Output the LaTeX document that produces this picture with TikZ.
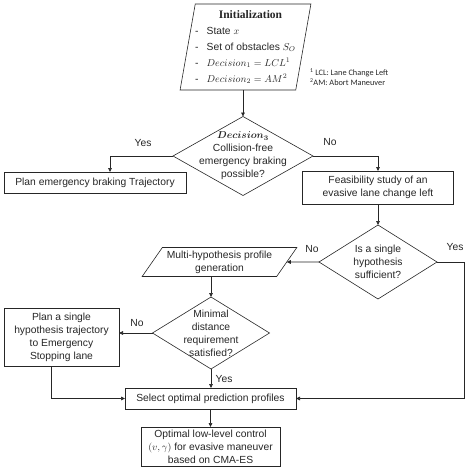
\documentclass[tikz,border=0pt]{standalone}
\usepackage{amsmath}
\usepackage{fontspec}
\setmainfont{Liberation Sans}
\newfontfamily\notefont{Carlito}
\newfontfamily\headfont{Liberation Serif}
\usetikzlibrary{shapes.geometric,arrows.meta,positioning}

\begin{document}
\begin{tikzpicture}[x=1pt, y=-1pt, color=black!85, line width=0.6pt,
  font=\fontsize{10.3}{13}\selectfont,
  >={Triangle[length=4pt,width=3.6pt]},
  every node/.style={inner sep=0pt, outer sep=0pt},
  box/.style={draw, rectangle, align=center},
  decision/.style={draw, diamond, inner sep=1pt},
  inout/.style={draw, trapezium, inner xsep=0pt, inner ysep=3pt}]
  \useasboundingbox (0,0) rectangle (474,474);

  \node[inout, trapezium left angle=80, trapezium right angle=100] (init) at (245.5,47)
    {\def\arraystretch{1.23}%
      \begin{tabular}{@{}l@{\hspace{8pt}}l@{}}
        \multicolumn{2}{c}{\hspace{10pt}\headfont\bfseries\fontsize{11.5}{13}\selectfont Initialization}\\
        - & State $x$\\
        - & Set of obstacles $S_O$\\
        - & $Decision_1=LCL^1$\\
        - & $Decision_2=AM^2$
      \end{tabular}};
  \node[anchor=west, align=left, font=\notefont\fontsize{8.3}{10}\selectfont] (fn) at (310,77)
    {\textsuperscript{1} LCL: Lane Change Left\\\textsuperscript{2}AM: Abort Maneuver};

  \node[decision, minimum width=140pt, minimum height=79pt,
    label={[align=center]center:{$\boldsymbol{Decision_3}$\\Collision-free\\emergency braking\\possible?}}] (d1) at (243,156) {};
  \node[box, minimum width=182pt, minimum height=21pt] (brake) at (95,182.5) {Plan emergency braking Trajectory};
  \node[box, minimum width=151pt, minimum height=33pt] (lcl) at (378,187.5) {Feasibility study of an\\evasive lane change left};

  \node[decision, minimum width=118pt, minimum height=74pt,
    label={[align=center]center:{Is a single\\hypothesis\\sufficient?}}] (d2) at (378,262) {};
  \node[draw, trapezium, trapezium stretches=true, inner sep=2pt, trapezium left angle=54, trapezium right angle=126,
    minimum width=155pt, minimum height=29pt, align=center] (multi) at (219.5,262)
    {Multi-hypothesis profile\\generation};

  \node[decision, minimum width=117pt, minimum height=72pt,
    label={[align=center]center:{Minimal\\distance\\requirement\\satisfied?}}] (d3) at (211,333) {};
  \node[box, minimum width=115pt, minimum height=58pt] (single) at (61.5,337)
    {Plan a single\\hypothesis trajectory\\to Emergency\\Stopping lane};

  \node[box, minimum width=171pt, minimum height=21pt] (sel) at (210.5,398.5) {Select optimal prediction profiles};
  \node[box, minimum width=139pt, minimum height=39pt, below=18pt of sel] (ctrl)
    {Optimal low-level control\\$(v,\gamma)$ for evasive maneuver\\based on CMA-ES};

  \node (y1) at (143,143) {Yes};
  \node (n1) at (330,142) {No};
  \node (n2) at (312,249) {No};
  \node (y2) at (455,247) {Yes};
  \node (n3) at (137,323) {No};
  \node (y3) at (224,379) {Yes};

  \draw[->] (d1.north |- init.south) -- (d1.north);
  \draw[->] (d1.west) -| ([xshift=15pt]brake.north);
  \draw[->] (d1.east) -| (lcl.north);
  \draw[->] (lcl.south) -- (d2.north);
  \draw[->] (d2.west) -- (multi);
  \draw[->] (d3.north |- multi.south) -- (d3.north);
  \draw[->] (d3.west) -- (d3.west -| single.east);
  \draw[->] (d3.south) -- (d3.south |- sel.north);
  \draw[->] (d2.east) -- ++(27pt,0) |- (sel.east);
  \draw[->] ([xshift=-10pt]single.south) |- (sel.west);
  \draw[->] (sel) -- (ctrl);
\end{tikzpicture}
\end{document}
